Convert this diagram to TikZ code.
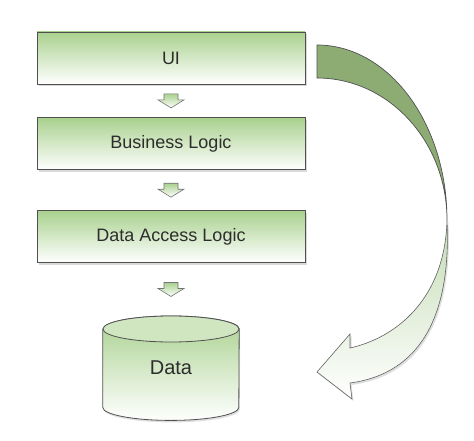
\documentclass[tikz,border=0pt]{standalone}
\usepackage{fontspec}
\setmainfont{Liberation Sans}
\usepackage{tikz}
\usetikzlibrary{positioning, calc, shadows, backgrounds}

\definecolor{boxgreen}{RGB}{169,209,142}
\definecolor{bandgreen}{RGB}{140,172,116}
\definecolor{edgegray}{RGB}{80,80,80}
\definecolor{txtgray}{RGB}{45,45,45}
\definecolor{arrlight}{RGB}{196,220,180}

\begin{document}
\begin{tikzpicture}[
			x=1pt, y=1pt,
			font=\fontsize{18}{21}\selectfont,
			layer/.style={
				draw=edgegray,
				line width=0.8pt,
				top color=boxgreen,
				middle color=boxgreen!35!white,
				bottom color=white,
				minimum width=268pt,
				minimum height=52pt,
				text=txtgray,
				drop shadow={shadow xshift=1.5pt, shadow yshift=-2pt, opacity=0.3}
			},
			downarr/.style={draw=edgegray!80, line width=0.6pt, top color=boxgreen, bottom color=white},
			cylbody/.style={
				draw=edgegray,
				line width=0.8pt,
				top color=boxgreen,
				middle color=boxgreen!30!white,
				bottom color=white,
				drop shadow={shadow xshift=1pt, shadow yshift=-2pt, opacity=0.25}
			},
			bandback/.style={draw=edgegray, line width=0.7pt, fill=bandgreen},
			bandfront/.style={
				draw=edgegray!90,
				line width=0.6pt,
				top color=arrlight,
				middle color=white,
				bottom color=white,
				drop shadow={shadow xshift=1.5pt, shadow yshift=-2pt, opacity=0.25}
			},
			node distance=33pt
			]
			\useasboundingbox (0,0) rectangle (474,440);
			
			\node[layer] (ui) at (171,382) {UI};
			\node[layer, below=of ui] (bl) {Business Logic};
			\node[layer, below=40pt of bl] (dal) {Data Access Logic};
			\node[below=53pt of dal, minimum width=136pt, minimum height=104pt,
				text=txtgray, font=\fontsize{20}{24}\selectfont] (data) {Data};
			
			% cylinder behind the text
			\begin{scope}[on background layer]
				\path[cylbody] ($(data.north west)+(0,-13)$) -- ($(data.south west)+(0,13)$)
					arc[start angle=180, end angle=360, x radius=68, y radius=13]
					-- ($(data.north east)+(0,-13)$)
					arc[start angle=0, end angle=180, x radius=68, y radius=13] -- cycle;
				\draw[edgegray, line width=0.8pt, fill=boxgreen!55!white]
					($(data.north)+(0,-13)$) ellipse[x radius=68, y radius=13];
			\end{scope}
			
			\foreach \a/\b in {ui/bl, bl/dal, dal/data}
				\draw[downarr] ($(\a.south)!.5!(\b.north)$) ++(-7,7) -- ++(14,0) -- ++(0,-6)
					-- ++(6,0) -- ++(-13,-8) -- ++(-13,8) -- ++(6,0) -- cycle;
			
			% big bent arrow from UI to Data
			\coordinate (twist) at (447,220);
			\path[bandfront] (twist) .. controls (445,140) and (395,102) .. (350,92)
				-- (350,106) -- (317,68) -- (352,41) -- (350,57)
				.. controls (410,65) and (452,110) .. (twist) -- cycle;
			\path[bandback] (317,395) arc[start angle=90, end angle=0, x radius=130, y radius=175]
				arc[start angle=0, end angle=90, x radius=130, y radius=142] -- cycle;
			
		\end{tikzpicture}
\end{document}
